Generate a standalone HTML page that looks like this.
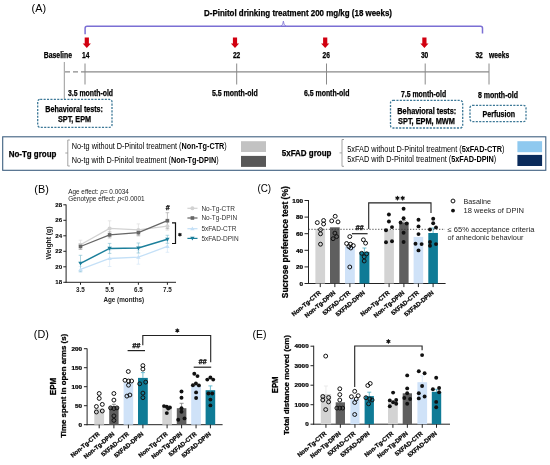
<!DOCTYPE html>
<html><head><meta charset="utf-8"><style>
html,body{margin:0;padding:0;background:#fff;}
svg{display:block;font-family:"Liberation Sans", sans-serif;will-change:transform;}
</style></head><body>
<svg width="550" height="465" viewBox="0 0 550 465">
<rect width="550" height="465" fill="#fff"/>
<text x="31.60" y="11.70" font-size="11.4" textLength="14.50" lengthAdjust="spacingAndGlyphs" >(A)</text>
<path d="M85.1 34.3 V28.2 Q85.1 26.2 87.1 26.2 H480.5 Q482.5 26.2 482.5 28.2 V33.5" fill="none" stroke="#7b6fd4" stroke-width="1.5"/>
<path d="M280.5 26.2 Q283.4 25.5 283.4 21 Q283.4 25.5 286.3 26.2" fill="none" stroke="#8d84da" stroke-width="1"/>
<text x="204.00" y="16.00" font-size="8.6" font-weight="bold" textLength="188.00" lengthAdjust="spacingAndGlyphs" stroke="#000" stroke-width="0.25" >D-Pinitol drinking treatment 200 mg/kg (18 weeks)</text>
<path d="M84.70 37.4 H88.90 V43.4 H90.90 L86.80 48.1 L82.70 43.4 H84.70 Z" fill="#d10010"/>
<path d="M232.90 37.4 H237.10 V43.4 H239.10 L235.00 48.1 L230.90 43.4 H232.90 Z" fill="#d10010"/>
<path d="M323.10 37.4 H327.30 V43.4 H329.30 L325.20 48.1 L321.10 43.4 H323.10 Z" fill="#d10010"/>
<path d="M422.30 37.4 H426.50 V43.4 H428.50 L424.40 48.1 L420.30 43.4 H422.30 Z" fill="#d10010"/>
<text x="43.80" y="57.70" font-size="8.2" font-weight="bold" textLength="28.20" lengthAdjust="spacingAndGlyphs" stroke="#000" stroke-width="0.25" >Baseline</text>
<text x="85.80" y="57.70" font-size="8.2" font-weight="bold" text-anchor="middle" textLength="7.40" lengthAdjust="spacingAndGlyphs" stroke="#000" stroke-width="0.25" >14</text>
<text x="236.60" y="57.70" font-size="8.2" font-weight="bold" text-anchor="middle" textLength="7.40" lengthAdjust="spacingAndGlyphs" stroke="#000" stroke-width="0.25" >22</text>
<text x="326.20" y="57.70" font-size="8.2" font-weight="bold" text-anchor="middle" textLength="7.40" lengthAdjust="spacingAndGlyphs" stroke="#000" stroke-width="0.25" >26</text>
<text x="424.60" y="57.70" font-size="8.2" font-weight="bold" text-anchor="middle" textLength="7.40" lengthAdjust="spacingAndGlyphs" stroke="#000" stroke-width="0.25" >30</text>
<text x="479.10" y="57.70" font-size="8.2" font-weight="bold" text-anchor="middle" textLength="7.40" lengthAdjust="spacingAndGlyphs" stroke="#000" stroke-width="0.25" >32</text>
<text x="489.00" y="57.70" font-size="8.2" font-weight="bold" textLength="20.30" lengthAdjust="spacingAndGlyphs" stroke="#000" stroke-width="0.25" >weeks</text>
<line x1="64.30" y1="62.00" x2="64.30" y2="99.40" stroke="#999" stroke-width="1" />
<line x1="65" y1="71.8" x2="85" y2="71.8" stroke="#8a8a8a" stroke-width="1.2" stroke-dasharray="5 3"/>
<line x1="85.00" y1="71.80" x2="489.00" y2="71.80" stroke="#8a8a8a" stroke-width="1.2" />
<line x1="85.00" y1="63.50" x2="85.00" y2="84.50" stroke="#8a8a8a" stroke-width="1" />
<line x1="236.70" y1="63.50" x2="236.70" y2="84.50" stroke="#8a8a8a" stroke-width="1" />
<line x1="326.50" y1="63.50" x2="326.50" y2="84.50" stroke="#8a8a8a" stroke-width="1" />
<line x1="425.20" y1="63.50" x2="425.20" y2="84.50" stroke="#8a8a8a" stroke-width="1" />
<line x1="489.00" y1="63.50" x2="489.00" y2="84.50" stroke="#8a8a8a" stroke-width="1" />
<text x="68.00" y="95.60" font-size="8.2" font-weight="bold" textLength="45.00" lengthAdjust="spacingAndGlyphs" stroke="#000" stroke-width="0.25" >3.5 month-old</text>
<text x="211.90" y="96.40" font-size="8.2" font-weight="bold" textLength="45.80" lengthAdjust="spacingAndGlyphs" stroke="#000" stroke-width="0.25" >5.5 month-old</text>
<text x="303.90" y="96.40" font-size="8.2" font-weight="bold" textLength="45.50" lengthAdjust="spacingAndGlyphs" stroke="#000" stroke-width="0.25" >6.5 month-old</text>
<text x="401.00" y="96.60" font-size="8.2" font-weight="bold" textLength="45.10" lengthAdjust="spacingAndGlyphs" stroke="#000" stroke-width="0.25" >7.5 month-old</text>
<text x="477.90" y="97.50" font-size="8.2" font-weight="bold" textLength="40.10" lengthAdjust="spacingAndGlyphs" stroke="#000" stroke-width="0.25" >8 month-old</text>
<rect x="37.70" y="99.40" width="74.30" height="28.00" rx="2.5" fill="none" stroke="#3c7897" stroke-width="1.3" stroke-dasharray="2.1 1.3"/>
<text x="45.30" y="111.50" font-size="8.4" font-weight="bold" textLength="57.70" lengthAdjust="spacingAndGlyphs" stroke="#000" stroke-width="0.25" >Behavioral tests:</text>
<text x="58.00" y="122.30" font-size="8.4" font-weight="bold" textLength="33.10" lengthAdjust="spacingAndGlyphs" stroke="#000" stroke-width="0.25" >SPT, EPM</text>
<rect x="390.50" y="100.40" width="72.20" height="27.60" rx="2.5" fill="none" stroke="#3c7897" stroke-width="1.3" stroke-dasharray="2.1 1.3"/>
<text x="397.30" y="114.00" font-size="8.4" font-weight="bold" textLength="59.00" lengthAdjust="spacingAndGlyphs" stroke="#000" stroke-width="0.25" >Behavioral tests:</text>
<text x="398.10" y="123.60" font-size="8.4" font-weight="bold" textLength="56.80" lengthAdjust="spacingAndGlyphs" stroke="#000" stroke-width="0.25" >SPT, EPM, MWM</text>
<rect x="470.00" y="105.30" width="56.00" height="16.30" rx="2.5" fill="none" stroke="#3c7897" stroke-width="1.3" stroke-dasharray="2.1 1.3"/>
<text x="482.50" y="117.00" font-size="8.4" font-weight="bold" textLength="32.60" lengthAdjust="spacingAndGlyphs" stroke="#000" stroke-width="0.25" >Perfusion</text>
<rect x="2.7" y="136.8" width="543.1" height="33.5" fill="none" stroke="#3f6080" stroke-width="1.1"/>
<text x="8.70" y="156.50" font-size="8.3" font-weight="bold" textLength="47.70" lengthAdjust="spacingAndGlyphs" stroke="#000" stroke-width="0.25" >No-Tg group</text>
<text x="281.80" y="156.30" font-size="8.3" font-weight="bold" textLength="49.60" lengthAdjust="spacingAndGlyphs" stroke="#000" stroke-width="0.25" >5xFAD group</text>
<path d="M69.80 140.00 H67.80 V166.00 H69.80 M67.80 153.00 H65.30" fill="none" stroke="#999" stroke-width="0.9"/>
<path d="M344.00 139.50 H342.00 V166.30 H344.00 M342.00 152.90 H339.50" fill="none" stroke="#999" stroke-width="0.9"/>
<text x="71.80" y="149.20" font-size="9.0" textLength="155.00" lengthAdjust="spacingAndGlyphs" >No-tg without D-Pinitol treatment (<tspan font-weight="bold">Non-Tg-CTR</tspan>)</text>
<text x="71.80" y="162.70" font-size="9.0" textLength="146.80" lengthAdjust="spacingAndGlyphs" >No-tg with D-Pinitol treatment (<tspan font-weight="bold">Non-Tg-DPIN</tspan>)</text>
<text x="347.30" y="151.80" font-size="9.0" textLength="157.10" lengthAdjust="spacingAndGlyphs" >5xFAD without D-Pinitol treatment (<tspan font-weight="bold">5xFAD-CTR</tspan>)</text>
<text x="347.30" y="162.30" font-size="9.0" textLength="149.00" lengthAdjust="spacingAndGlyphs" >5xFAD with D-Pinitol treatment (<tspan font-weight="bold">5xFAD-DPIN</tspan>)</text>
<rect x="241.00" y="141.20" width="25.00" height="10.80" fill="#c2c2c2" />
<rect x="241.00" y="155.90" width="25.00" height="11.00" fill="#585858" />
<rect x="517.40" y="141.20" width="24.70" height="11.00" fill="#8fc9ef" />
<rect x="517.40" y="154.90" width="24.70" height="11.10" fill="#0b2b5b" />
<text x="34.30" y="192.50" font-size="11.4" textLength="14.50" lengthAdjust="spacingAndGlyphs" >(B)</text>
<text x="68.30" y="193.80" font-size="7.0" textLength="60.50" lengthAdjust="spacingAndGlyphs" fill="#222" >Age effect: <tspan font-style="italic">p</tspan>= 0.0034</text>
<text x="68.30" y="201.40" font-size="7.0" textLength="76.30" lengthAdjust="spacingAndGlyphs" fill="#222" >Genotype effect: <tspan font-style="italic">p</tspan>&lt;0.0001</text>
<line x1="66.10" y1="204.50" x2="66.10" y2="282.80" stroke="#222" stroke-width="1" />
<line x1="65.60" y1="282.30" x2="176.00" y2="282.30" stroke="#222" stroke-width="1" />
<line x1="63.30" y1="282.30" x2="66.10" y2="282.30" stroke="#222" stroke-width="1" />
<text x="0" y="0" font-size="6.1" transform="translate(62.10 284.40) scale(1 0.92)" font-weight="bold" text-anchor="end" stroke="#000" stroke-width="0.1" >18</text>
<line x1="63.30" y1="266.80" x2="66.10" y2="266.80" stroke="#222" stroke-width="1" />
<text x="0" y="0" font-size="6.1" transform="translate(62.10 268.90) scale(1 0.92)" font-weight="bold" text-anchor="end" stroke="#000" stroke-width="0.1" >20</text>
<line x1="63.30" y1="251.30" x2="66.10" y2="251.30" stroke="#222" stroke-width="1" />
<text x="0" y="0" font-size="6.1" transform="translate(62.10 253.40) scale(1 0.92)" font-weight="bold" text-anchor="end" stroke="#000" stroke-width="0.1" >22</text>
<line x1="63.30" y1="235.80" x2="66.10" y2="235.80" stroke="#222" stroke-width="1" />
<text x="0" y="0" font-size="6.1" transform="translate(62.10 237.90) scale(1 0.92)" font-weight="bold" text-anchor="end" stroke="#000" stroke-width="0.1" >24</text>
<line x1="63.30" y1="220.30" x2="66.10" y2="220.30" stroke="#222" stroke-width="1" />
<text x="0" y="0" font-size="6.1" transform="translate(62.10 222.40) scale(1 0.92)" font-weight="bold" text-anchor="end" stroke="#000" stroke-width="0.1" >26</text>
<line x1="63.30" y1="204.80" x2="66.10" y2="204.80" stroke="#222" stroke-width="1" />
<text x="0" y="0" font-size="6.1" transform="translate(62.10 206.90) scale(1 0.92)" font-weight="bold" text-anchor="end" stroke="#000" stroke-width="0.1" >28</text>
<line x1="80.50" y1="282.30" x2="80.50" y2="284.80" stroke="#222" stroke-width="1" />
<text x="80.50" y="291.60" font-size="6.3" font-weight="bold" text-anchor="middle" fill="#222" >3.5</text>
<line x1="109.60" y1="282.30" x2="109.60" y2="284.80" stroke="#222" stroke-width="1" />
<text x="109.60" y="291.60" font-size="6.3" font-weight="bold" text-anchor="middle" fill="#222" >5.5</text>
<line x1="138.40" y1="282.30" x2="138.40" y2="284.80" stroke="#222" stroke-width="1" />
<text x="138.40" y="291.60" font-size="6.3" font-weight="bold" text-anchor="middle" fill="#222" >6.5</text>
<line x1="167.40" y1="282.30" x2="167.40" y2="284.80" stroke="#222" stroke-width="1" />
<text x="167.40" y="291.60" font-size="6.3" font-weight="bold" text-anchor="middle" fill="#222" >7.5</text>
<text x="123.80" y="301.80" font-size="6.6" font-weight="bold" text-anchor="middle" textLength="40.70" lengthAdjust="spacingAndGlyphs" fill="#222" >Age (months)</text>
<text x="50.80" y="243.00" font-size="6.8" font-weight="bold" text-anchor="middle" fill="#222" transform="rotate(-90 50.80 243.00)" >Weight (g)</text>
<line x1="80.50" y1="240.20" x2="80.50" y2="249.20" stroke="#dedede" stroke-width="0.7" />
<line x1="78.70" y1="240.20" x2="82.30" y2="240.20" stroke="#dedede" stroke-width="0.7" />
<line x1="78.70" y1="249.20" x2="82.30" y2="249.20" stroke="#dedede" stroke-width="0.7" />
<line x1="109.60" y1="220.80" x2="109.60" y2="236.00" stroke="#dedede" stroke-width="0.7" />
<line x1="107.80" y1="220.80" x2="111.40" y2="220.80" stroke="#dedede" stroke-width="0.7" />
<line x1="107.80" y1="236.00" x2="111.40" y2="236.00" stroke="#dedede" stroke-width="0.7" />
<line x1="138.40" y1="223.90" x2="138.40" y2="235.90" stroke="#dedede" stroke-width="0.7" />
<line x1="136.60" y1="223.90" x2="140.20" y2="223.90" stroke="#dedede" stroke-width="0.7" />
<line x1="136.60" y1="235.90" x2="140.20" y2="235.90" stroke="#dedede" stroke-width="0.7" />
<line x1="167.40" y1="222.20" x2="167.40" y2="230.20" stroke="#dedede" stroke-width="0.7" />
<line x1="165.60" y1="222.20" x2="169.20" y2="222.20" stroke="#dedede" stroke-width="0.7" />
<line x1="165.60" y1="230.20" x2="169.20" y2="230.20" stroke="#dedede" stroke-width="0.7" />
<line x1="80.50" y1="266.40" x2="80.50" y2="272.40" stroke="#d6e8f8" stroke-width="0.7" />
<line x1="78.70" y1="266.40" x2="82.30" y2="266.40" stroke="#d6e8f8" stroke-width="0.7" />
<line x1="78.70" y1="272.40" x2="82.30" y2="272.40" stroke="#d6e8f8" stroke-width="0.7" />
<line x1="109.60" y1="250.50" x2="109.60" y2="266.50" stroke="#d6e8f8" stroke-width="0.7" />
<line x1="107.80" y1="250.50" x2="111.40" y2="250.50" stroke="#d6e8f8" stroke-width="0.7" />
<line x1="107.80" y1="266.50" x2="111.40" y2="266.50" stroke="#d6e8f8" stroke-width="0.7" />
<line x1="138.40" y1="250.20" x2="138.40" y2="264.20" stroke="#d6e8f8" stroke-width="0.7" />
<line x1="136.60" y1="250.20" x2="140.20" y2="250.20" stroke="#d6e8f8" stroke-width="0.7" />
<line x1="136.60" y1="264.20" x2="140.20" y2="264.20" stroke="#d6e8f8" stroke-width="0.7" />
<line x1="167.40" y1="240.30" x2="167.40" y2="252.30" stroke="#d6e8f8" stroke-width="0.7" />
<line x1="165.60" y1="240.30" x2="169.20" y2="240.30" stroke="#d6e8f8" stroke-width="0.7" />
<line x1="165.60" y1="252.30" x2="169.20" y2="252.30" stroke="#d6e8f8" stroke-width="0.7" />
<line x1="80.50" y1="243.50" x2="80.50" y2="249.50" stroke="#a8a8a8" stroke-width="0.7" />
<line x1="78.70" y1="243.50" x2="82.30" y2="243.50" stroke="#a8a8a8" stroke-width="0.7" />
<line x1="78.70" y1="249.50" x2="82.30" y2="249.50" stroke="#a8a8a8" stroke-width="0.7" />
<line x1="109.60" y1="231.90" x2="109.60" y2="237.90" stroke="#a8a8a8" stroke-width="0.7" />
<line x1="107.80" y1="231.90" x2="111.40" y2="231.90" stroke="#a8a8a8" stroke-width="0.7" />
<line x1="107.80" y1="237.90" x2="111.40" y2="237.90" stroke="#a8a8a8" stroke-width="0.7" />
<line x1="138.40" y1="229.70" x2="138.40" y2="235.70" stroke="#a8a8a8" stroke-width="0.7" />
<line x1="136.60" y1="229.70" x2="140.20" y2="229.70" stroke="#a8a8a8" stroke-width="0.7" />
<line x1="136.60" y1="235.70" x2="140.20" y2="235.70" stroke="#a8a8a8" stroke-width="0.7" />
<line x1="167.40" y1="212.70" x2="167.40" y2="228.70" stroke="#a8a8a8" stroke-width="0.7" />
<line x1="165.60" y1="212.70" x2="169.20" y2="212.70" stroke="#a8a8a8" stroke-width="0.7" />
<line x1="165.60" y1="228.70" x2="169.20" y2="228.70" stroke="#a8a8a8" stroke-width="0.7" />
<line x1="80.50" y1="255.30" x2="80.50" y2="271.30" stroke="#8cc4d4" stroke-width="0.7" />
<line x1="78.70" y1="255.30" x2="82.30" y2="255.30" stroke="#8cc4d4" stroke-width="0.7" />
<line x1="78.70" y1="271.30" x2="82.30" y2="271.30" stroke="#8cc4d4" stroke-width="0.7" />
<line x1="109.60" y1="243.40" x2="109.60" y2="253.40" stroke="#8cc4d4" stroke-width="0.7" />
<line x1="107.80" y1="243.40" x2="111.40" y2="243.40" stroke="#8cc4d4" stroke-width="0.7" />
<line x1="107.80" y1="253.40" x2="111.40" y2="253.40" stroke="#8cc4d4" stroke-width="0.7" />
<line x1="138.40" y1="243.00" x2="138.40" y2="253.00" stroke="#8cc4d4" stroke-width="0.7" />
<line x1="136.60" y1="243.00" x2="140.20" y2="243.00" stroke="#8cc4d4" stroke-width="0.7" />
<line x1="136.60" y1="253.00" x2="140.20" y2="253.00" stroke="#8cc4d4" stroke-width="0.7" />
<line x1="167.40" y1="235.30" x2="167.40" y2="243.30" stroke="#8cc4d4" stroke-width="0.7" />
<line x1="165.60" y1="235.30" x2="169.20" y2="235.30" stroke="#8cc4d4" stroke-width="0.7" />
<line x1="165.60" y1="243.30" x2="169.20" y2="243.30" stroke="#8cc4d4" stroke-width="0.7" />
<polyline points="80.5,244.7 109.6,228.4 138.4,229.9 167.4,226.2" fill="none" stroke="#d2d2d2" stroke-width="1.3"/>
<circle cx="80.5" cy="244.7" r="2" fill="#d2d2d2"/>
<circle cx="109.6" cy="228.4" r="2" fill="#d2d2d2"/>
<circle cx="138.4" cy="229.9" r="2" fill="#d2d2d2"/>
<circle cx="167.4" cy="226.2" r="2" fill="#d2d2d2"/>
<polyline points="80.5,269.4 109.6,258.5 138.4,257.2 167.4,246.3" fill="none" stroke="#c4e0f7" stroke-width="1.3"/>
<path d="M80.5 267.2 L82.7 271.0 L78.3 271.0Z" fill="#c4e0f7"/>
<path d="M109.6 256.3 L111.8 260.1 L107.39999999999999 260.1Z" fill="#c4e0f7"/>
<path d="M138.4 255.0 L140.6 258.8 L136.20000000000002 258.8Z" fill="#c4e0f7"/>
<path d="M167.4 244.10000000000002 L169.6 247.9 L165.20000000000002 247.9Z" fill="#c4e0f7"/>
<polyline points="80.5,246.5 109.6,234.9 138.4,232.7 167.4,220.7" fill="none" stroke="#666666" stroke-width="1.3"/>
<rect x="78.7" y="244.7" width="3.6" height="3.6" fill="#666666"/>
<rect x="107.8" y="233.1" width="3.6" height="3.6" fill="#666666"/>
<rect x="136.6" y="230.89999999999998" width="3.6" height="3.6" fill="#666666"/>
<rect x="165.6" y="218.89999999999998" width="3.6" height="3.6" fill="#666666"/>
<polyline points="80.5,263.3 109.6,248.4 138.4,248.0 167.4,239.3" fill="none" stroke="#1b7f9b" stroke-width="1.5"/>
<path d="M80.5 265.5 L82.7 261.7 L78.3 261.7Z" fill="#1b7f9b"/>
<path d="M109.6 250.6 L111.8 246.8 L107.39999999999999 246.8Z" fill="#1b7f9b"/>
<path d="M138.4 250.2 L140.6 246.4 L136.20000000000002 246.4Z" fill="#1b7f9b"/>
<path d="M167.4 241.5 L169.6 237.70000000000002 L165.20000000000002 237.70000000000002Z" fill="#1b7f9b"/>
<text x="167.80" y="210.40" font-size="7" font-weight="bold" text-anchor="middle" stroke="#000" stroke-width="0.25" >#</text>
<path d="M172.0 222.8 H175.5 V243.5 H172.0" fill="none" stroke="#111" stroke-width="1.2"/>
<path d="M179.90 233.20 L179.90 236.00 M181.11 233.90 L178.69 235.30 M181.11 235.30 L178.69 233.90 " stroke="#111" stroke-width="1.1" stroke-linecap="round" fill="none"/>
<circle cx="179.90" cy="234.60" r="0.98" fill="#111"/>
<line x1="187.40" y1="208.30" x2="197.50" y2="208.30" stroke="#d2d2d2" stroke-width="1.2" />
<circle cx="192.4" cy="208.3" r="2" fill="#d2d2d2"/>
<text x="201.40" y="210.60" font-size="6.5" fill="#333" >No-Tg-CTR</text>
<line x1="187.40" y1="218.00" x2="197.50" y2="218.00" stroke="#666666" stroke-width="1.2" />
<rect x="190.6" y="216.2" width="3.6" height="3.6" fill="#666666"/>
<text x="201.40" y="220.30" font-size="6.5" fill="#333" >No-Tg-DPIN</text>
<line x1="187.40" y1="228.70" x2="197.50" y2="228.70" stroke="#c4e0f7" stroke-width="1.2" />
<path d="M192.4 226.5 L194.6 230.29999999999998 L190.20000000000002 230.29999999999998Z" fill="#c4e0f7"/>
<text x="201.40" y="231.00" font-size="6.5" fill="#333" >5xFAD-CTR</text>
<line x1="187.40" y1="238.40" x2="197.50" y2="238.40" stroke="#1b7f9b" stroke-width="1.2" />
<path d="M192.4 240.6 L194.6 236.8 L190.20000000000002 236.8Z" fill="#1b7f9b"/>
<text x="201.40" y="240.70" font-size="6.5" fill="#333" >5xFAD-DPIN</text>
<text x="257.40" y="191.50" font-size="11.4" textLength="13.70" lengthAdjust="spacingAndGlyphs" >(C)</text>
<line x1="308.50" y1="200.00" x2="308.50" y2="284.00" stroke="#222" stroke-width="1" />
<line x1="308.00" y1="283.50" x2="445.60" y2="283.50" stroke="#222" stroke-width="1" />
<line x1="304.50" y1="283.50" x2="308.50" y2="283.50" stroke="#222" stroke-width="1" />
<text x="0" y="0" font-size="6.4" transform="translate(303.00 285.70) scale(1 0.92)" font-weight="bold" text-anchor="end" stroke="#000" stroke-width="0.25" >0</text>
<line x1="304.50" y1="266.90" x2="308.50" y2="266.90" stroke="#222" stroke-width="1" />
<text x="0" y="0" font-size="6.4" transform="translate(303.00 269.10) scale(1 0.92)" font-weight="bold" text-anchor="end" stroke="#000" stroke-width="0.25" >20</text>
<line x1="304.50" y1="250.30" x2="308.50" y2="250.30" stroke="#222" stroke-width="1" />
<text x="0" y="0" font-size="6.4" transform="translate(303.00 252.50) scale(1 0.92)" font-weight="bold" text-anchor="end" stroke="#000" stroke-width="0.25" >40</text>
<line x1="304.50" y1="233.70" x2="308.50" y2="233.70" stroke="#222" stroke-width="1" />
<text x="0" y="0" font-size="6.4" transform="translate(303.00 235.90) scale(1 0.92)" font-weight="bold" text-anchor="end" stroke="#000" stroke-width="0.25" >60</text>
<line x1="304.50" y1="217.10" x2="308.50" y2="217.10" stroke="#222" stroke-width="1" />
<text x="0" y="0" font-size="6.4" transform="translate(303.00 219.30) scale(1 0.92)" font-weight="bold" text-anchor="end" stroke="#000" stroke-width="0.25" >80</text>
<line x1="304.50" y1="200.50" x2="308.50" y2="200.50" stroke="#222" stroke-width="1" />
<text x="0" y="0" font-size="6.4" transform="translate(303.00 202.70) scale(1 0.92)" font-weight="bold" text-anchor="end" stroke="#000" stroke-width="0.25" >100</text>
<text x="288.00" y="242.20" font-size="8.5" font-weight="bold" text-anchor="middle" textLength="112.00" lengthAdjust="spacingAndGlyphs" stroke="#000" stroke-width="0.25" transform="rotate(-90 288.00 242.20)" >Sucrose preference test (%)</text>
<rect x="315.40" y="228.90" width="9.70" height="54.60" fill="#d3d3d3" />
<rect x="330.00" y="227.30" width="9.70" height="56.20" fill="#5f5f5f" />
<rect x="345.00" y="246.50" width="9.80" height="37.00" fill="#cfe2f8" />
<rect x="359.50" y="251.90" width="9.90" height="31.60" fill="#0f7b96" />
<line x1="364.45" y1="248.00" x2="364.45" y2="251.90" stroke="#4fb0c8" stroke-width="0.8" />
<line x1="362.45" y1="248.00" x2="366.45" y2="248.00" stroke="#4fb0c8" stroke-width="0.8" />
<rect x="384.30" y="229.90" width="9.60" height="53.60" fill="#d3d3d3" />
<rect x="399.20" y="222.50" width="9.40" height="61.00" fill="#5f5f5f" />
<line x1="403.90" y1="220.40" x2="403.90" y2="222.50" stroke="#7a7a7a" stroke-width="0.8" />
<line x1="401.90" y1="220.40" x2="405.90" y2="220.40" stroke="#7a7a7a" stroke-width="0.8" />
<rect x="413.60" y="236.90" width="9.60" height="46.60" fill="#cfe2f8" />
<rect x="428.30" y="233.00" width="9.60" height="50.50" fill="#0f7b96" />
<line x1="433.10" y1="228.00" x2="433.10" y2="233.00" stroke="#4fb0c8" stroke-width="0.8" />
<line x1="431.10" y1="228.00" x2="435.10" y2="228.00" stroke="#4fb0c8" stroke-width="0.8" />
<line x1="308.5" y1="229.3" x2="445" y2="229.3" stroke="#333" stroke-width="0.85" stroke-dasharray="1.3 1.6"/>
<circle cx="317.3" cy="222.6" r="1.95" fill="none" stroke="#111" stroke-width="1"/>
<circle cx="323.6" cy="220.5" r="1.95" fill="none" stroke="#111" stroke-width="1"/>
<circle cx="323.6" cy="224.0" r="1.95" fill="none" stroke="#111" stroke-width="1"/>
<circle cx="320.5" cy="229.6" r="1.95" fill="none" stroke="#111" stroke-width="1"/>
<circle cx="320.5" cy="233.8" r="1.95" fill="none" stroke="#111" stroke-width="1"/>
<circle cx="320.5" cy="244.2" r="1.95" fill="none" stroke="#111" stroke-width="1"/>
<circle cx="335.2" cy="216.3" r="1.95" fill="none" stroke="#111" stroke-width="1"/>
<circle cx="331.7" cy="220.9" r="1.95" fill="none" stroke="#111" stroke-width="1"/>
<circle cx="338.0" cy="221.9" r="1.95" fill="none" stroke="#111" stroke-width="1"/>
<circle cx="334.9" cy="233.1" r="1.95" fill="none" stroke="#111" stroke-width="1"/>
<circle cx="336.6" cy="236.6" r="1.95" fill="none" stroke="#111" stroke-width="1"/>
<circle cx="333.1" cy="238.7" r="1.95" fill="none" stroke="#111" stroke-width="1"/>
<circle cx="349.8" cy="236.6" r="1.95" fill="none" stroke="#111" stroke-width="1"/>
<circle cx="346.6" cy="243.5" r="1.95" fill="none" stroke="#111" stroke-width="1"/>
<circle cx="350.5" cy="244.2" r="1.95" fill="none" stroke="#111" stroke-width="1"/>
<circle cx="353.3" cy="245.6" r="1.95" fill="none" stroke="#111" stroke-width="1"/>
<circle cx="348.9" cy="246.6" r="1.95" fill="none" stroke="#111" stroke-width="1"/>
<circle cx="350.8" cy="248.0" r="1.95" fill="none" stroke="#111" stroke-width="1"/>
<circle cx="349.8" cy="267.0" r="1.95" fill="none" stroke="#111" stroke-width="1"/>
<circle cx="363.4" cy="239.8" r="1.95" fill="none" stroke="#111" stroke-width="1"/>
<circle cx="365.6" cy="243.1" r="1.95" fill="none" stroke="#111" stroke-width="1"/>
<circle cx="361.7" cy="253.3" r="1.95" fill="none" stroke="#111" stroke-width="1"/>
<circle cx="366.6" cy="253.8" r="1.95" fill="none" stroke="#111" stroke-width="1"/>
<circle cx="364.2" cy="256.8" r="1.95" fill="none" stroke="#111" stroke-width="1"/>
<circle cx="364.2" cy="261.0" r="1.95" fill="none" stroke="#111" stroke-width="1"/>
<circle cx="388.9" cy="214.5" r="1.95" fill="#111"/>
<circle cx="388.9" cy="221.5" r="1.95" fill="#111"/>
<circle cx="392.0" cy="227.1" r="1.95" fill="#111"/>
<circle cx="386.0" cy="230.2" r="1.95" fill="#111"/>
<circle cx="386.0" cy="242.3" r="1.95" fill="#111"/>
<circle cx="392.0" cy="241.3" r="1.95" fill="#111"/>
<circle cx="403.6" cy="208.8" r="1.95" fill="#111"/>
<circle cx="403.6" cy="218.3" r="1.95" fill="#111"/>
<circle cx="400.6" cy="222.5" r="1.95" fill="#111"/>
<circle cx="406.7" cy="223.5" r="1.95" fill="#111"/>
<circle cx="403.6" cy="232.7" r="1.95" fill="#111"/>
<circle cx="403.6" cy="242.0" r="1.95" fill="#111"/>
<circle cx="418.5" cy="219.7" r="1.95" fill="#111"/>
<circle cx="418.5" cy="226.4" r="1.95" fill="#111"/>
<circle cx="418.5" cy="234.1" r="1.95" fill="#111"/>
<circle cx="415.5" cy="243.7" r="1.95" fill="#111"/>
<circle cx="421.6" cy="244.1" r="1.95" fill="#111"/>
<circle cx="418.5" cy="250.4" r="1.95" fill="#111"/>
<circle cx="433.2" cy="218.7" r="1.95" fill="#111"/>
<circle cx="433.2" cy="223.2" r="1.95" fill="#111"/>
<circle cx="436.0" cy="227.4" r="1.95" fill="#111"/>
<circle cx="430.0" cy="229.5" r="1.95" fill="#111"/>
<circle cx="430.0" cy="242.0" r="1.95" fill="#111"/>
<circle cx="436.0" cy="244.1" r="1.95" fill="#111"/>
<circle cx="430.0" cy="245.8" r="1.95" fill="#111"/>
<line x1="320.25" y1="283.50" x2="320.25" y2="287.10" stroke="#222" stroke-width="1" />
<line x1="334.85" y1="283.50" x2="334.85" y2="287.10" stroke="#222" stroke-width="1" />
<line x1="349.90" y1="283.50" x2="349.90" y2="287.10" stroke="#222" stroke-width="1" />
<line x1="364.45" y1="283.50" x2="364.45" y2="287.10" stroke="#222" stroke-width="1" />
<line x1="389.10" y1="283.50" x2="389.10" y2="287.10" stroke="#222" stroke-width="1" />
<line x1="403.90" y1="283.50" x2="403.90" y2="287.10" stroke="#222" stroke-width="1" />
<line x1="418.40" y1="283.50" x2="418.40" y2="287.10" stroke="#222" stroke-width="1" />
<line x1="433.10" y1="283.50" x2="433.10" y2="287.10" stroke="#222" stroke-width="1" />
<text x="321.25" y="293.50" font-size="6.1" font-weight="bold" text-anchor="end" stroke="#000" stroke-width="0.25" transform="rotate(-40 321.25 293.50)" >Non-Tg-CTR</text>
<text x="335.85" y="293.50" font-size="6.1" font-weight="bold" text-anchor="end" stroke="#000" stroke-width="0.25" transform="rotate(-40 335.85 293.50)" >Non-Tg-DPIN</text>
<text x="350.90" y="293.50" font-size="6.1" font-weight="bold" text-anchor="end" stroke="#000" stroke-width="0.25" transform="rotate(-40 350.90 293.50)" >5XFAD-CTR</text>
<text x="365.45" y="293.50" font-size="6.1" font-weight="bold" text-anchor="end" stroke="#000" stroke-width="0.25" transform="rotate(-40 365.45 293.50)" >5XFAD-DPIN</text>
<text x="390.10" y="293.50" font-size="6.1" font-weight="bold" text-anchor="end" stroke="#000" stroke-width="0.25" transform="rotate(-40 390.10 293.50)" >Non-Tg-CTR</text>
<text x="404.90" y="293.50" font-size="6.1" font-weight="bold" text-anchor="end" stroke="#000" stroke-width="0.25" transform="rotate(-40 404.90 293.50)" >Non-Tg-DPIN</text>
<text x="419.40" y="293.50" font-size="6.1" font-weight="bold" text-anchor="end" stroke="#000" stroke-width="0.25" transform="rotate(-40 419.40 293.50)" >5XFAD-CTR</text>
<text x="434.10" y="293.50" font-size="6.1" font-weight="bold" text-anchor="end" stroke="#000" stroke-width="0.25" transform="rotate(-40 434.10 293.50)" >5XFAD-DPIN</text>
<path d="M368.7 228.9 V202.9 H431 V213" fill="none" stroke="#222" stroke-width="1.1"/>
<path d="M397.40 196.30 L397.40 199.90 M398.96 197.20 L395.84 199.00 M398.96 199.00 L395.84 197.20 " stroke="#111" stroke-width="1.1" stroke-linecap="round" fill="none"/>
<circle cx="397.40" cy="198.10" r="1.26" fill="#111"/>
<path d="M402.70 196.30 L402.70 199.90 M404.26 197.20 L401.14 199.00 M404.26 199.00 L401.14 197.20 " stroke="#111" stroke-width="1.1" stroke-linecap="round" fill="none"/>
<circle cx="402.70" cy="198.10" r="1.26" fill="#111"/>
<line x1="351.90" y1="233.70" x2="367.60" y2="233.70" stroke="#222" stroke-width="1.2" />
<text x="359.60" y="230.00" font-size="7.2" font-weight="bold" text-anchor="middle" stroke="#000" stroke-width="0.25" font-style="italic">##</text>
<circle cx="453.0" cy="201.0" r="1.95" fill="none" stroke="#111" stroke-width="1"/>
<circle cx="453.0" cy="210.6" r="1.95" fill="#111"/>
<text x="463.60" y="203.50" font-size="7" textLength="27.40" lengthAdjust="spacingAndGlyphs" fill="#222" >Basaline</text>
<text x="463.60" y="213.10" font-size="7" textLength="60.40" lengthAdjust="spacingAndGlyphs" fill="#222" >18 weeks of DPIN</text>
<text x="447.60" y="231.90" font-size="7" textLength="86.80" lengthAdjust="spacingAndGlyphs" fill="#222" >≤ 65% acceptance criteria</text>
<text x="447.60" y="240.10" font-size="7" textLength="75.80" lengthAdjust="spacingAndGlyphs" fill="#222" >of anhedonic behaviour</text>
<text x="33.80" y="337.80" font-size="11.4" textLength="15.00" lengthAdjust="spacingAndGlyphs" >(D)</text>
<line x1="87.10" y1="348.50" x2="87.10" y2="425.20" stroke="#222" stroke-width="1" />
<line x1="86.60" y1="424.70" x2="222.60" y2="424.70" stroke="#222" stroke-width="1" />
<line x1="83.90" y1="424.70" x2="87.10" y2="424.70" stroke="#222" stroke-width="1" />
<text x="0" y="0" font-size="6.4" transform="translate(82.10 426.60) scale(1 0.8)" font-weight="bold" text-anchor="end" stroke="#000" stroke-width="0.25" >0</text>
<line x1="83.90" y1="405.70" x2="87.10" y2="405.70" stroke="#222" stroke-width="1" />
<text x="0" y="0" font-size="6.4" transform="translate(82.10 407.60) scale(1 0.8)" font-weight="bold" text-anchor="end" stroke="#000" stroke-width="0.25" >50</text>
<line x1="83.90" y1="386.70" x2="87.10" y2="386.70" stroke="#222" stroke-width="1" />
<text x="0" y="0" font-size="6.4" transform="translate(82.10 388.60) scale(1 0.8)" font-weight="bold" text-anchor="end" stroke="#000" stroke-width="0.25" >100</text>
<line x1="83.90" y1="367.70" x2="87.10" y2="367.70" stroke="#222" stroke-width="1" />
<text x="0" y="0" font-size="6.4" transform="translate(82.10 369.60) scale(1 0.8)" font-weight="bold" text-anchor="end" stroke="#000" stroke-width="0.25" >150</text>
<line x1="83.90" y1="348.70" x2="87.10" y2="348.70" stroke="#222" stroke-width="1" />
<text x="0" y="0" font-size="6.4" transform="translate(82.10 350.60) scale(1 0.8)" font-weight="bold" text-anchor="end" stroke="#000" stroke-width="0.25" >200</text>
<text x="55.50" y="386.50" font-size="8.2" font-weight="bold" text-anchor="middle" textLength="17.40" lengthAdjust="spacingAndGlyphs" stroke="#000" stroke-width="0.25" transform="rotate(-90 55.50 386.50)" >EPM</text>
<text x="66.40" y="385.80" font-size="8" font-weight="bold" text-anchor="middle" textLength="104.00" lengthAdjust="spacingAndGlyphs" stroke="#000" stroke-width="0.25" transform="rotate(-90 66.40 385.80)" >Time spent in open arms (s)</text>
<rect x="94.30" y="408.50" width="9.80" height="16.20" fill="#d3d3d3" />
<rect x="109.20" y="406.30" width="9.40" height="18.40" fill="#5f5f5f" />
<line x1="113.90" y1="404.30" x2="113.90" y2="406.30" stroke="#7a7a7a" stroke-width="0.8" />
<line x1="111.90" y1="404.30" x2="115.90" y2="404.30" stroke="#7a7a7a" stroke-width="0.8" />
<rect x="123.60" y="382.50" width="9.60" height="42.20" fill="#cfe2f8" />
<rect x="138.00" y="377.90" width="9.80" height="46.80" fill="#0f7b96" />
<line x1="142.90" y1="372.60" x2="142.90" y2="377.90" stroke="#4fb0c8" stroke-width="0.8" />
<line x1="140.90" y1="372.60" x2="144.90" y2="372.60" stroke="#4fb0c8" stroke-width="0.8" />
<rect x="162.30" y="407.50" width="9.60" height="17.20" fill="#d3d3d3" />
<rect x="176.80" y="408.20" width="9.60" height="16.50" fill="#5f5f5f" />
<line x1="181.60" y1="403.30" x2="181.60" y2="408.20" stroke="#7a7a7a" stroke-width="0.8" />
<line x1="179.60" y1="403.30" x2="183.60" y2="403.30" stroke="#7a7a7a" stroke-width="0.8" />
<rect x="191.20" y="385.30" width="9.70" height="39.40" fill="#cfe2f8" />
<rect x="205.60" y="390.20" width="9.60" height="34.50" fill="#0f7b96" />
<line x1="210.40" y1="385.90" x2="210.40" y2="390.20" stroke="#4fb0c8" stroke-width="0.8" />
<line x1="208.40" y1="385.90" x2="212.40" y2="385.90" stroke="#4fb0c8" stroke-width="0.8" />
<circle cx="99.2" cy="393.5" r="1.95" fill="none" stroke="#111" stroke-width="1"/>
<circle cx="99.2" cy="398.4" r="1.95" fill="none" stroke="#111" stroke-width="1"/>
<circle cx="96.4" cy="406.5" r="1.95" fill="none" stroke="#111" stroke-width="1"/>
<circle cx="102.3" cy="404.4" r="1.95" fill="none" stroke="#111" stroke-width="1"/>
<circle cx="96.4" cy="412.0" r="1.95" fill="none" stroke="#111" stroke-width="1"/>
<circle cx="102.3" cy="411.0" r="1.95" fill="none" stroke="#111" stroke-width="1"/>
<circle cx="113.9" cy="393.5" r="1.95" fill="none" stroke="#111" stroke-width="1"/>
<circle cx="113.9" cy="400.1" r="1.95" fill="none" stroke="#111" stroke-width="1"/>
<circle cx="110.6" cy="407.9" r="1.95" fill="none" stroke="#111" stroke-width="1"/>
<circle cx="113.9" cy="408.5" r="1.95" fill="none" stroke="#111" stroke-width="1"/>
<circle cx="116.9" cy="407.9" r="1.95" fill="none" stroke="#111" stroke-width="1"/>
<circle cx="113.9" cy="415.9" r="1.95" fill="none" stroke="#111" stroke-width="1"/>
<circle cx="113.9" cy="420.4" r="1.95" fill="none" stroke="#111" stroke-width="1"/>
<circle cx="128.3" cy="371.5" r="1.95" fill="none" stroke="#111" stroke-width="1"/>
<circle cx="125.0" cy="380.3" r="1.95" fill="none" stroke="#111" stroke-width="1"/>
<circle cx="128.5" cy="381.0" r="1.95" fill="none" stroke="#111" stroke-width="1"/>
<circle cx="131.6" cy="381.0" r="1.95" fill="none" stroke="#111" stroke-width="1"/>
<circle cx="128.5" cy="385.2" r="1.95" fill="none" stroke="#111" stroke-width="1"/>
<circle cx="126.9" cy="396.1" r="1.95" fill="none" stroke="#111" stroke-width="1"/>
<circle cx="129.9" cy="395.0" r="1.95" fill="none" stroke="#111" stroke-width="1"/>
<circle cx="142.9" cy="365.6" r="1.95" fill="none" stroke="#111" stroke-width="1"/>
<circle cx="142.9" cy="369.1" r="1.95" fill="none" stroke="#111" stroke-width="1"/>
<circle cx="139.7" cy="383.8" r="1.95" fill="none" stroke="#111" stroke-width="1"/>
<circle cx="145.7" cy="382.1" r="1.95" fill="none" stroke="#111" stroke-width="1"/>
<circle cx="142.9" cy="393.1" r="1.95" fill="none" stroke="#111" stroke-width="1"/>
<circle cx="142.9" cy="397.7" r="1.95" fill="none" stroke="#111" stroke-width="1"/>
<circle cx="164.0" cy="406.1" r="1.95" fill="#111"/>
<circle cx="166.8" cy="406.8" r="1.95" fill="#111"/>
<circle cx="169.9" cy="407.5" r="1.95" fill="#111"/>
<circle cx="168.2" cy="408.6" r="1.95" fill="#111"/>
<circle cx="166.8" cy="413.1" r="1.95" fill="#111"/>
<circle cx="181.5" cy="391.5" r="1.95" fill="#111"/>
<circle cx="181.5" cy="397.7" r="1.95" fill="#111"/>
<circle cx="181.5" cy="408.2" r="1.95" fill="#111"/>
<circle cx="181.5" cy="411.7" r="1.95" fill="#111"/>
<circle cx="178.2" cy="419.8" r="1.95" fill="#111"/>
<circle cx="184.5" cy="418.4" r="1.95" fill="#111"/>
<circle cx="194.3" cy="373.7" r="1.95" fill="#111"/>
<circle cx="197.5" cy="376.1" r="1.95" fill="#111"/>
<circle cx="192.9" cy="385.2" r="1.95" fill="#111"/>
<circle cx="195.9" cy="383.5" r="1.95" fill="#111"/>
<circle cx="198.9" cy="385.4" r="1.95" fill="#111"/>
<circle cx="196.1" cy="392.4" r="1.95" fill="#111"/>
<circle cx="196.1" cy="398.0" r="1.95" fill="#111"/>
<circle cx="207.3" cy="379.6" r="1.95" fill="#111"/>
<circle cx="210.4" cy="377.5" r="1.95" fill="#111"/>
<circle cx="213.2" cy="379.6" r="1.95" fill="#111"/>
<circle cx="208.4" cy="393.5" r="1.95" fill="#111"/>
<circle cx="212.2" cy="393.5" r="1.95" fill="#111"/>
<circle cx="210.4" cy="399.6" r="1.95" fill="#111"/>
<circle cx="210.4" cy="405.4" r="1.95" fill="#111"/>
<line x1="99.20" y1="424.70" x2="99.20" y2="428.30" stroke="#222" stroke-width="1" />
<line x1="113.90" y1="424.70" x2="113.90" y2="428.30" stroke="#222" stroke-width="1" />
<line x1="128.40" y1="424.70" x2="128.40" y2="428.30" stroke="#222" stroke-width="1" />
<line x1="142.90" y1="424.70" x2="142.90" y2="428.30" stroke="#222" stroke-width="1" />
<line x1="167.10" y1="424.70" x2="167.10" y2="428.30" stroke="#222" stroke-width="1" />
<line x1="181.60" y1="424.70" x2="181.60" y2="428.30" stroke="#222" stroke-width="1" />
<line x1="196.05" y1="424.70" x2="196.05" y2="428.30" stroke="#222" stroke-width="1" />
<line x1="210.40" y1="424.70" x2="210.40" y2="428.30" stroke="#222" stroke-width="1" />
<text x="100.20" y="434.70" font-size="6.1" font-weight="bold" text-anchor="end" stroke="#000" stroke-width="0.25" transform="rotate(-40 100.20 434.70)" >Non-Tg-CTR</text>
<text x="114.90" y="434.70" font-size="6.1" font-weight="bold" text-anchor="end" stroke="#000" stroke-width="0.25" transform="rotate(-40 114.90 434.70)" >Non-Tg-DPIN</text>
<text x="129.40" y="434.70" font-size="6.1" font-weight="bold" text-anchor="end" stroke="#000" stroke-width="0.25" transform="rotate(-40 129.40 434.70)" >5XFAD-CTR</text>
<text x="143.90" y="434.70" font-size="6.1" font-weight="bold" text-anchor="end" stroke="#000" stroke-width="0.25" transform="rotate(-40 143.90 434.70)" >5XFAD-DPIN</text>
<text x="168.10" y="434.70" font-size="6.1" font-weight="bold" text-anchor="end" stroke="#000" stroke-width="0.25" transform="rotate(-40 168.10 434.70)" >Non-Tg-CTR</text>
<text x="182.60" y="434.70" font-size="6.1" font-weight="bold" text-anchor="end" stroke="#000" stroke-width="0.25" transform="rotate(-40 182.60 434.70)" >Non-Tg-DPIN</text>
<text x="197.05" y="434.70" font-size="6.1" font-weight="bold" text-anchor="end" stroke="#000" stroke-width="0.25" transform="rotate(-40 197.05 434.70)" >5XFAD-CTR</text>
<text x="211.40" y="434.70" font-size="6.1" font-weight="bold" text-anchor="end" stroke="#000" stroke-width="0.25" transform="rotate(-40 211.40 434.70)" >5XFAD-DPIN</text>
<path d="M142.8 345.3 V335.5 H210.7 V362.3" fill="none" stroke="#222" stroke-width="1.1"/>
<path d="M177.30 328.90 L177.30 332.30 M178.77 329.75 L175.83 331.45 M178.77 331.45 L175.83 329.75 " stroke="#111" stroke-width="1.1" stroke-linecap="round" fill="none"/>
<circle cx="177.30" cy="330.60" r="1.19" fill="#111"/>
<line x1="127.60" y1="350.60" x2="145.00" y2="350.60" stroke="#222" stroke-width="1.2" />
<text x="136.30" y="347.90" font-size="7.2" font-weight="bold" text-anchor="middle" stroke="#000" stroke-width="0.25" font-style="italic">##</text>
<line x1="193.70" y1="367.20" x2="211.20" y2="367.20" stroke="#222" stroke-width="1.2" />
<text x="202.50" y="364.40" font-size="7.2" font-weight="bold" text-anchor="middle" stroke="#000" stroke-width="0.25" font-style="italic">##</text>
<text x="252.50" y="337.80" font-size="11.4" textLength="14.00" lengthAdjust="spacingAndGlyphs" >(E)</text>
<line x1="313.70" y1="345.70" x2="313.70" y2="424.70" stroke="#222" stroke-width="1" />
<line x1="313.20" y1="424.20" x2="450.00" y2="424.20" stroke="#222" stroke-width="1" />
<line x1="310.50" y1="424.20" x2="313.70" y2="424.20" stroke="#222" stroke-width="1" />
<text x="0" y="0" font-size="6.4" transform="translate(308.70 426.10) scale(1 0.8)" font-weight="bold" text-anchor="end" stroke="#000" stroke-width="0.25" >0</text>
<line x1="310.50" y1="404.70" x2="313.70" y2="404.70" stroke="#222" stroke-width="1" />
<text x="0" y="0" font-size="6.4" transform="translate(308.70 406.60) scale(1 0.8)" font-weight="bold" text-anchor="end" stroke="#000" stroke-width="0.25" >1000</text>
<line x1="310.50" y1="385.20" x2="313.70" y2="385.20" stroke="#222" stroke-width="1" />
<text x="0" y="0" font-size="6.4" transform="translate(308.70 387.10) scale(1 0.8)" font-weight="bold" text-anchor="end" stroke="#000" stroke-width="0.25" >2000</text>
<line x1="310.50" y1="365.70" x2="313.70" y2="365.70" stroke="#222" stroke-width="1" />
<text x="0" y="0" font-size="6.4" transform="translate(308.70 367.60) scale(1 0.8)" font-weight="bold" text-anchor="end" stroke="#000" stroke-width="0.25" >3000</text>
<line x1="310.50" y1="346.20" x2="313.70" y2="346.20" stroke="#222" stroke-width="1" />
<text x="0" y="0" font-size="6.4" transform="translate(308.70 348.10) scale(1 0.8)" font-weight="bold" text-anchor="end" stroke="#000" stroke-width="0.25" >4000</text>
<text x="278.00" y="384.80" font-size="8.2" font-weight="bold" text-anchor="middle" textLength="16.70" lengthAdjust="spacingAndGlyphs" stroke="#000" stroke-width="0.25" transform="rotate(-90 278.00 384.80)" >EPM</text>
<text x="289.00" y="385.00" font-size="7.6" font-weight="bold" text-anchor="middle" textLength="100.00" lengthAdjust="spacingAndGlyphs" stroke="#000" stroke-width="0.25" transform="rotate(-90 289.00 385.00)" >Total distance moved (cm)</text>
<rect x="320.80" y="394.20" width="10.30" height="30.00" fill="#d3d3d3" />
<line x1="325.95" y1="386.00" x2="325.95" y2="394.20" stroke="#e6e6e6" stroke-width="0.8" />
<line x1="323.95" y1="386.00" x2="327.95" y2="386.00" stroke="#e6e6e6" stroke-width="0.8" />
<rect x="335.70" y="402.30" width="9.30" height="21.90" fill="#5f5f5f" />
<rect x="350.40" y="398.80" width="9.10" height="25.40" fill="#cfe2f8" />
<rect x="364.60" y="396.10" width="9.30" height="28.10" fill="#0f7b96" />
<line x1="369.25" y1="392.20" x2="369.25" y2="396.10" stroke="#4fb0c8" stroke-width="0.8" />
<line x1="367.25" y1="392.20" x2="371.25" y2="392.20" stroke="#4fb0c8" stroke-width="0.8" />
<rect x="388.00" y="402.30" width="9.80" height="21.90" fill="#d3d3d3" />
<rect x="402.70" y="393.30" width="9.30" height="30.90" fill="#5f5f5f" />
<rect x="417.40" y="382.20" width="9.70" height="42.00" fill="#cfe2f8" />
<line x1="422.25" y1="375.80" x2="422.25" y2="382.20" stroke="#d8e8fa" stroke-width="0.8" />
<line x1="420.25" y1="375.80" x2="424.25" y2="375.80" stroke="#d8e8fa" stroke-width="0.8" />
<rect x="431.80" y="391.80" width="9.40" height="32.40" fill="#0f7b96" />
<line x1="436.50" y1="389.30" x2="436.50" y2="391.80" stroke="#4fb0c8" stroke-width="0.8" />
<line x1="434.50" y1="389.30" x2="438.50" y2="389.30" stroke="#4fb0c8" stroke-width="0.8" />
<circle cx="325.7" cy="356.1" r="1.95" fill="none" stroke="#111" stroke-width="1"/>
<circle cx="322.8" cy="396.5" r="1.95" fill="none" stroke="#111" stroke-width="1"/>
<circle cx="322.8" cy="400.0" r="1.95" fill="none" stroke="#111" stroke-width="1"/>
<circle cx="328.6" cy="397.5" r="1.95" fill="none" stroke="#111" stroke-width="1"/>
<circle cx="328.6" cy="401.9" r="1.95" fill="none" stroke="#111" stroke-width="1"/>
<circle cx="325.7" cy="409.6" r="1.95" fill="none" stroke="#111" stroke-width="1"/>
<circle cx="339.8" cy="388.8" r="1.95" fill="none" stroke="#111" stroke-width="1"/>
<circle cx="339.8" cy="394.6" r="1.95" fill="none" stroke="#111" stroke-width="1"/>
<circle cx="339.8" cy="400.0" r="1.95" fill="none" stroke="#111" stroke-width="1"/>
<circle cx="336.9" cy="408.1" r="1.95" fill="none" stroke="#111" stroke-width="1"/>
<circle cx="339.8" cy="408.1" r="1.95" fill="none" stroke="#111" stroke-width="1"/>
<circle cx="342.7" cy="408.1" r="1.95" fill="none" stroke="#111" stroke-width="1"/>
<circle cx="354.7" cy="391.3" r="1.95" fill="none" stroke="#111" stroke-width="1"/>
<circle cx="351.4" cy="396.7" r="1.95" fill="none" stroke="#111" stroke-width="1"/>
<circle cx="358.2" cy="395.7" r="1.95" fill="none" stroke="#111" stroke-width="1"/>
<circle cx="356.2" cy="399.0" r="1.95" fill="none" stroke="#111" stroke-width="1"/>
<circle cx="354.7" cy="402.5" r="1.95" fill="none" stroke="#111" stroke-width="1"/>
<circle cx="354.7" cy="414.5" r="1.95" fill="none" stroke="#111" stroke-width="1"/>
<circle cx="367.8" cy="385.5" r="1.95" fill="none" stroke="#111" stroke-width="1"/>
<circle cx="370.2" cy="383.5" r="1.95" fill="none" stroke="#111" stroke-width="1"/>
<circle cx="365.9" cy="397.7" r="1.95" fill="none" stroke="#111" stroke-width="1"/>
<circle cx="369.8" cy="399.0" r="1.95" fill="none" stroke="#111" stroke-width="1"/>
<circle cx="372.1" cy="400.0" r="1.95" fill="none" stroke="#111" stroke-width="1"/>
<circle cx="368.6" cy="403.8" r="1.95" fill="none" stroke="#111" stroke-width="1"/>
<circle cx="393.1" cy="392.6" r="1.95" fill="#111"/>
<circle cx="389.8" cy="400.4" r="1.95" fill="#111"/>
<circle cx="396.2" cy="400.0" r="1.95" fill="#111"/>
<circle cx="393.1" cy="402.3" r="1.95" fill="#111"/>
<circle cx="396.2" cy="403.8" r="1.95" fill="#111"/>
<circle cx="389.8" cy="406.2" r="1.95" fill="#111"/>
<circle cx="407.2" cy="375.4" r="1.95" fill="#111"/>
<circle cx="407.2" cy="388.4" r="1.95" fill="#111"/>
<circle cx="407.2" cy="393.2" r="1.95" fill="#111"/>
<circle cx="404.3" cy="398.0" r="1.95" fill="#111"/>
<circle cx="410.1" cy="399.0" r="1.95" fill="#111"/>
<circle cx="407.2" cy="403.8" r="1.95" fill="#111"/>
<circle cx="422.1" cy="355.1" r="1.95" fill="#111"/>
<circle cx="418.8" cy="371.3" r="1.95" fill="#111"/>
<circle cx="424.6" cy="373.3" r="1.95" fill="#111"/>
<circle cx="422.1" cy="386.0" r="1.95" fill="#111"/>
<circle cx="418.8" cy="393.2" r="1.95" fill="#111"/>
<circle cx="424.6" cy="396.5" r="1.95" fill="#111"/>
<circle cx="418.8" cy="398.4" r="1.95" fill="#111"/>
<circle cx="436.2" cy="377.7" r="1.95" fill="#111"/>
<circle cx="432.9" cy="389.3" r="1.95" fill="#111"/>
<circle cx="439.1" cy="388.0" r="1.95" fill="#111"/>
<circle cx="439.1" cy="392.2" r="1.95" fill="#111"/>
<circle cx="436.2" cy="401.9" r="1.95" fill="#111"/>
<circle cx="436.2" cy="407.3" r="1.95" fill="#111"/>
<line x1="325.95" y1="424.20" x2="325.95" y2="427.80" stroke="#222" stroke-width="1" />
<line x1="340.35" y1="424.20" x2="340.35" y2="427.80" stroke="#222" stroke-width="1" />
<line x1="354.95" y1="424.20" x2="354.95" y2="427.80" stroke="#222" stroke-width="1" />
<line x1="369.25" y1="424.20" x2="369.25" y2="427.80" stroke="#222" stroke-width="1" />
<line x1="392.90" y1="424.20" x2="392.90" y2="427.80" stroke="#222" stroke-width="1" />
<line x1="407.35" y1="424.20" x2="407.35" y2="427.80" stroke="#222" stroke-width="1" />
<line x1="422.25" y1="424.20" x2="422.25" y2="427.80" stroke="#222" stroke-width="1" />
<line x1="436.50" y1="424.20" x2="436.50" y2="427.80" stroke="#222" stroke-width="1" />
<text x="326.95" y="434.20" font-size="6.1" font-weight="bold" text-anchor="end" stroke="#000" stroke-width="0.25" transform="rotate(-40 326.95 434.20)" >Non-Tg-CTR</text>
<text x="341.35" y="434.20" font-size="6.1" font-weight="bold" text-anchor="end" stroke="#000" stroke-width="0.25" transform="rotate(-40 341.35 434.20)" >Non-Tg-DPIN</text>
<text x="355.95" y="434.20" font-size="6.1" font-weight="bold" text-anchor="end" stroke="#000" stroke-width="0.25" transform="rotate(-40 355.95 434.20)" >5XFAD-CTR</text>
<text x="370.25" y="434.20" font-size="6.1" font-weight="bold" text-anchor="end" stroke="#000" stroke-width="0.25" transform="rotate(-40 370.25 434.20)" >5XFAD-DPIN</text>
<text x="393.90" y="434.20" font-size="6.1" font-weight="bold" text-anchor="end" stroke="#000" stroke-width="0.25" transform="rotate(-40 393.90 434.20)" >Non-Tg-CTR</text>
<text x="408.35" y="434.20" font-size="6.1" font-weight="bold" text-anchor="end" stroke="#000" stroke-width="0.25" transform="rotate(-40 408.35 434.20)" >Non-Tg-DPIN</text>
<text x="423.25" y="434.20" font-size="6.1" font-weight="bold" text-anchor="end" stroke="#000" stroke-width="0.25" transform="rotate(-40 423.25 434.20)" >5XFAD-CTR</text>
<text x="437.50" y="434.20" font-size="6.1" font-weight="bold" text-anchor="end" stroke="#000" stroke-width="0.25" transform="rotate(-40 437.50 434.20)" >5XFAD-DPIN</text>
<path d="M354.7 387 V346.0 H422.1 V350.3" fill="none" stroke="#222" stroke-width="1.1"/>
<path d="M388.40 339.60 L388.40 343.20 M389.96 340.50 L386.84 342.30 M389.96 342.30 L386.84 340.50 " stroke="#111" stroke-width="1.1" stroke-linecap="round" fill="none"/>
<circle cx="388.40" cy="341.40" r="1.26" fill="#111"/>
</svg>
</body></html>
